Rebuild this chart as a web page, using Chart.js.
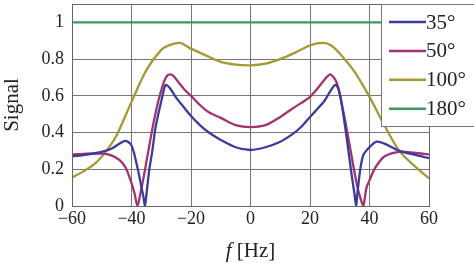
<!DOCTYPE html>
<html>
<head>
<meta charset="utf-8">
<script src="https://cdn.jsdelivr.net/npm/chart.js@4"></script>
<style>
  html, body { margin: 0; padding: 0; background: #fff; }
  #wrap { width: 474px; height: 263px; }
</style>
</head>
<body>
<div id="wrap"><canvas id="signalChart"></canvas></div>
<script>
// values
const labels = ['35°', '50°', '100°', '180°'];
const colors = ['#3b3b9e', '#a3336e', '#a39a35', '#3c9a5e'];

const freq35 = [-60, -55, -50, -47, -44, -42, -40, -38, -37, -36, -35.5, -35, -34, -33, -32, -31, -30, -29, -28.5, -27, -25, -22, -20, -17, -14, -10, -5, 0,
  5, 10, 14, 17, 20, 22, 25, 27, 28.5, 29.5, 30.5, 32, 33, 34, 35, 35.5, 36, 37, 38, 40, 42.4, 45, 50, 55, 60];
const sig35 = [0.27, 0.28, 0.295, 0.31, 0.34, 0.355, 0.33, 0.21, 0.13, 0.05, 0.0, 0.06, 0.2, 0.3, 0.42, 0.5, 0.57, 0.64, 0.66, 0.64, 0.59, 0.53, 0.49, 0.44, 0.4, 0.36, 0.32, 0.305,
  0.32, 0.35, 0.39, 0.43, 0.485, 0.52, 0.576, 0.63, 0.66, 0.64, 0.57, 0.41, 0.29, 0.17, 0.06, 0.0, 0.08, 0.21, 0.28, 0.32, 0.35, 0.34, 0.3, 0.28, 0.26];

const freq50 = [-60, -55, -50, -47, -44, -42, -40, -39, -38, -37, -36, -35, -34, -33, -32, -31, -30, -29, -28, -27, -26, -24, -22, -20, -17, -14, -10, -5, 0,
  5, 10, 14, 17, 20, 22, 25, 26.7, 28, 29, 30, 31, 32, 33, 34, 35, 36, 37, 37.9, 39, 40, 42, 45, 50, 55, 60];
const sig50 = [0.28, 0.285, 0.285, 0.277, 0.25, 0.21, 0.125, 0.07, 0.0, 0.07, 0.15, 0.24, 0.33, 0.42, 0.5, 0.57, 0.63, 0.68, 0.71, 0.717, 0.71, 0.67, 0.63, 0.6, 0.55, 0.51, 0.48, 0.44, 0.43,
  0.44, 0.485, 0.53, 0.56, 0.594, 0.63, 0.69, 0.717, 0.7, 0.67, 0.61, 0.53, 0.45, 0.36, 0.27, 0.18, 0.1, 0.04, 0.0, 0.1, 0.14, 0.21, 0.27, 0.295, 0.29, 0.28];

const freq100 = [-60, -56, -52, -48, -45, -40, -35, -30, -27, -23.7, -20, -15, -10, -5, 0, 5, 10, 15, 20, 24.4, 27, 30, 35, 40, 45, 50, 55, 60];
const sig100 = [0.155, 0.19, 0.235, 0.31, 0.385, 0.567, 0.74, 0.85, 0.877, 0.888, 0.857, 0.82, 0.785, 0.77, 0.766, 0.775, 0.8, 0.835, 0.875, 0.888, 0.875, 0.83, 0.73, 0.594, 0.44, 0.3, 0.22, 0.15];

const freq180 = [-60, 60];
const sig180 = [1, 1];

const yTicks = [0, 0.2, 0.4, 0.6, 0.8, 1];

function toPoints(xs, ys) {
  return xs.map((x, i) => ({ x: x, y: ys[i] }));
}

const serif = '"Liberation Serif", "DejaVu Serif", serif';

// legend box + frame + x title drawn by hand (box sticks out past the right edge)
const extras = {
  id: 'extras',
  afterDraw(chart) {
    const c = chart.ctx;
    const a = chart.chartArea;
    c.save();
    c.strokeStyle = '#666';
    c.lineWidth = 1;
    c.strokeRect(a.left + 0.5, a.top + 0.5, a.right - a.left, a.bottom - a.top);

    // legend
    c.fillStyle = '#fff';
    c.fillRect(381, 4, 110, 122);
    c.strokeStyle = '#777';
    c.strokeRect(381.5, 4.5, 110, 122);
    c.font = '21px ' + serif;
    c.textBaseline = 'middle';
    chart.data.datasets.forEach((ds, i) => {
      const y = 22 + i * 28.9;
      c.strokeStyle = ds.borderColor;
      c.lineWidth = 2.5;
      c.beginPath();
      c.moveTo(389, y);
      c.lineTo(426, y);
      c.stroke();
      c.fillStyle = '#222';
      c.fillText(ds.label, 426, y + 1);
    });

    // x title: italic f then [Hz]
    c.textBaseline = 'alphabetic';
    c.fillStyle = '#222';
    c.font = 'italic 21px ' + serif;
    const fW = c.measureText('f').width;
    c.font = '21px ' + serif;
    const restW = c.measureText(' [Hz]').width;
    const x0 = (a.left + a.right) / 2 - (fW + restW) / 2;
    c.font = 'italic 21px ' + serif;
    c.fillText('f', x0, 257);
    c.font = '21px ' + serif;
    c.fillText(' [Hz]', x0 + fW, 257);
    c.restore();
  }
};

const ctx = document.getElementById('signalChart');
new Chart(ctx, {
  type: 'line',
  data: {
    datasets: [
      { label: labels[0], data: toPoints(freq35, sig35), borderColor: colors[0] },
      { label: labels[1], data: toPoints(freq50, sig50), borderColor: colors[1] },
      { label: labels[2], data: toPoints(freq100, sig100), borderColor: colors[2] },
      { label: labels[3], data: toPoints(freq180, sig180), borderColor: colors[3] }
    ]
  },
  options: {
    responsive: true,
    maintainAspectRatio: false,
    animation: false,
    layout: { padding: { top: 4, right: 45, left: 0, bottom: 0 } },
    elements: {
      point: { radius: 0 },
      line: { borderWidth: 2.3, tension: 0.3 }
    },
    plugins: {
      legend: { display: false },
      tooltip: { enabled: false }
    },
    scales: {
      x: {
        type: 'linear',
        min: -60,
        max: 60,
        ticks: {
          stepSize: 20,
          color: '#222',
          font: { family: serif, size: 18 },
          padding: 2,
          maxRotation: 0,
          callback: v => String(v).replace('-', '\u2212')
        },
        grid: { color: '#777', lineWidth: 1, drawTicks: false },
        border: { display: false },
        afterFit(scale) {
          scale.height = 57;
          scale.paddingLeft = 0;
          scale.paddingRight = 0;
        }
      },
      y: {
        min: 0,
        max: 1.1,
        afterBuildTicks(scale) { scale.ticks = yTicks.map(v => ({ value: v })); },
        ticks: {
          color: '#222',
          font: { family: serif, size: 18 },
          padding: 8,
          callback: v => String(v)
        },
        title: {
          display: true,
          text: 'Signal',
          color: '#222',
          font: { family: serif, size: 21 },
          padding: { top: 0, bottom: 4 }
        },
        grid: { color: '#777', lineWidth: 1, drawTicks: false },
        border: { display: false },
        afterFit(scale) {
          scale.width = 72;
          scale.paddingTop = 0;
          scale.paddingBottom = 0;
        }
      }
    }
  },
  plugins: [extras]
});
</script>
</body>
</html>
